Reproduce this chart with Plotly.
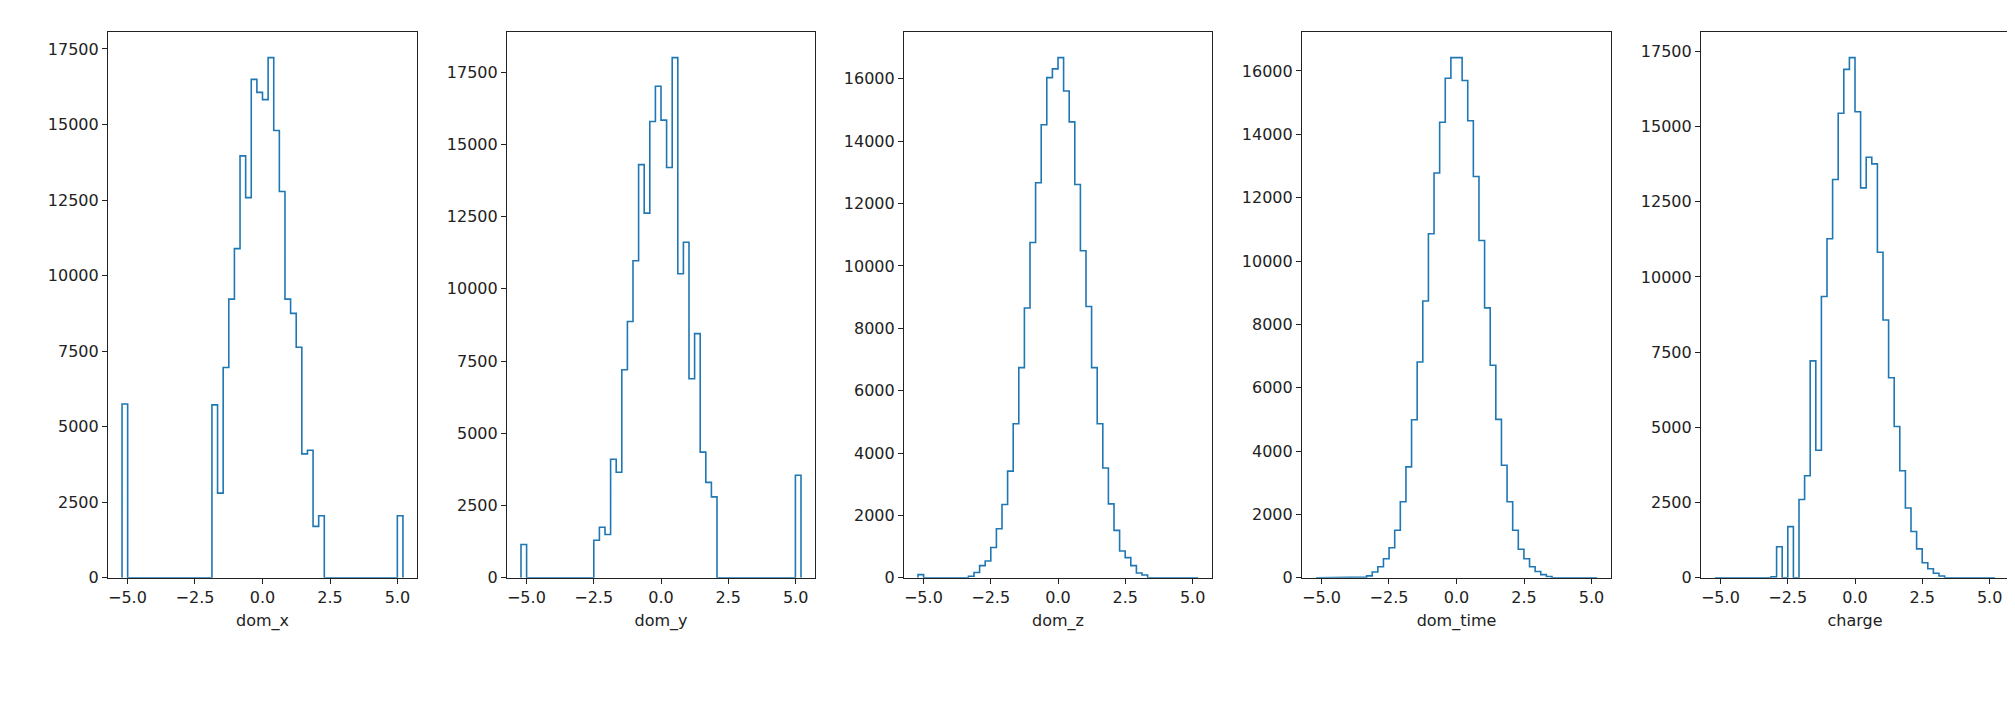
import plotly.graph_objects as go

# bin layout shared by all panels (50 bins)
bin_lo = -5.2
bin_hi = 5.2
n_bins = 50

names = ["dom_x", "dom_y", "dom_z", "dom_time", "charge"]

dom_x = {0: 5750, 16: 5720, 17: 2800, 18: 6960, 19: 9220, 20: 10890, 21: 13960, 22: 12580,
         23: 16490, 24: 16060, 25: 15820, 26: 17210, 27: 14800, 28: 12780, 29: 9220,
         30: 8750, 31: 7630, 32: 4100, 33: 4220, 34: 1700, 35: 2050, 49: 2050}
dom_y = {0: 1150, 13: 1300, 14: 1750, 15: 1500, 16: 4100, 17: 3650, 18: 7200, 19: 8870,
         20: 10970, 21: 14300, 22: 12620, 23: 15790, 24: 17010, 25: 15840, 26: 14200,
         27: 18000, 28: 10520, 29: 11610, 30: 6890, 31: 8450, 32: 4350, 33: 3300, 34: 2800,
         49: 3550}
dom_z = {0: 100, 9: 50, 10: 170, 11: 390, 12: 540, 13: 970, 14: 1570, 15: 2350, 16: 3420,
         17: 4940, 18: 6740, 19: 8650, 20: 10750, 21: 12670, 22: 14530, 23: 16040,
         24: 16320, 25: 16680, 26: 15610, 27: 14620, 28: 12610, 29: 10490, 30: 8700,
         31: 6740, 32: 4940, 33: 3520, 34: 2370, 35: 1520, 36: 860, 37: 645, 38: 390,
         39: 155, 40: 90}
dom_time = {8: 20, 9: 60, 10: 180, 11: 350, 12: 600, 13: 950, 14: 1500, 15: 2400, 16: 3500,
            17: 4990, 18: 6810, 19: 8740, 20: 10860, 21: 12780, 22: 14380, 23: 15770,
            24: 16420, 25: 16420, 26: 15700, 27: 14430, 28: 12670, 29: 10650, 30: 8520,
            31: 6710, 32: 5000, 33: 3550, 34: 2400, 35: 1500, 36: 900, 37: 600, 38: 350,
            39: 200, 40: 100, 41: 40}
charge = {10: 30, 11: 1030, 12: 0, 13: 1700, 14: 0, 15: 2600, 16: 3390, 17: 7210, 18: 4240,
          19: 9350, 20: 11270, 21: 13240, 22: 15440, 23: 16900, 24: 17290, 25: 15490,
          26: 12960, 27: 13980, 28: 13760, 29: 10820, 30: 8570, 31: 6650, 32: 5030,
          33: 3560, 34: 2320, 35: 1540, 36: 960, 37: 500, 38: 300, 39: 150, 40: 60}

series = [dom_x, dom_y, dom_z, dom_time, charge]
ytick_steps = [2500, 2500, 2000, 2000, 2500]

# panel positions in pixels (figure 2015 x 702)
W, H = 2015, 702
panel_x = [(100, 409), (499, 807), (896, 1204), (1294, 1603), (1693, 2001)]
top_px, bot_px = 24, 578

width = (bin_hi - bin_lo) / n_bins
edges = [bin_lo + i * width for i in range(n_bins + 1)]

fig = go.Figure()
for i, (name, d) in enumerate(zip(names, series)):
    counts = [d.get(k, 0) for k in range(n_bins)]
    xs = [edges[0]]
    ys = [0]
    for k in range(n_bins):
        xs += [edges[k], edges[k + 1]]
        ys += [counts[k], counts[k]]
    xs.append(edges[-1])
    ys.append(0)
    ax = "" if i == 0 else str(i + 1)
    fig.add_trace(go.Scatter(x=xs, y=ys, mode="lines", line=dict(color="#1f77b4", width=1.6),
                             xaxis="x" + ax, yaxis="y" + ax, showlegend=False,
                             hoverinfo="skip"))
    span = bin_hi - bin_lo
    x0, x1 = panel_x[i]
    ymax = max(counts) * 1.05
    axis_common = dict(showgrid=False, zeroline=False, showline=True, linecolor="#222",
                       linewidth=1.2, mirror=True, ticks="outside", ticklen=5,
                       tickcolor="#222", tickfont=dict(family="DejaVu Sans", size=16, color="#222"))
    fig.update_layout(**{
        "xaxis" + ax: dict(domain=[x0 / W, x1 / W], range=[bin_lo - 0.05 * span, bin_hi + 0.05 * span],
                           tickvals=[-5, -2.5, 0, 2.5, 5], tickformat=".1f",
                           anchor="y" + ax,
                           title=dict(text=name, font=dict(family="DejaVu Sans", size=16, color="#222"),
                                      standoff=8),
                           **axis_common),
        "yaxis" + ax: dict(domain=[(H - bot_px) / H, (H - top_px) / H], range=[0, ymax],
                           dtick=ytick_steps[i], tick0=0, tickformat="d", anchor="x" + ax,
                           **axis_common),
    })

fig.update_layout(width=W, height=H, margin=dict(l=0, r=0, t=0, b=0),
                  plot_bgcolor="white", paper_bgcolor="white")
fig.write_html("out.html")
